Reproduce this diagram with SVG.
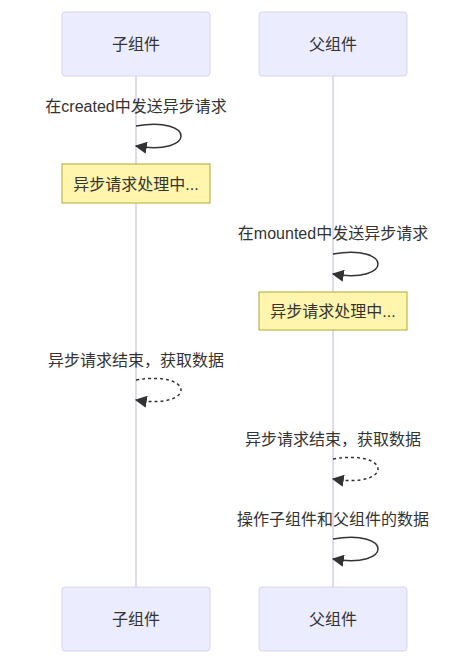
<svg xmlns="http://www.w3.org/2000/svg" width="474" height="668" viewBox="0 0 474 668">
<style>
.actor{fill:#ECECFF;stroke:#d9d2f2;stroke-width:1}
.life{stroke:#d6cff0;stroke-width:1.5;fill:none}
.t{font-family:"Trebuchet MS","Liberation Sans","Noto Sans CJK SC",sans-serif;font-size:16px;fill:#333;text-anchor:middle;dominant-baseline:central}
.note{fill:#fff5ad;stroke:#aaaa33;stroke-width:1}
.msg{fill:none;stroke:#333;stroke-width:1.5}
.dash{stroke-dasharray:3,3}
</style>
<defs>
<marker id="arrowhead" refX="9" refY="5" markerUnits="userSpaceOnUse" markerWidth="12" markerHeight="12" orient="auto" viewBox="0 0 10 10"><path d="M 0 0 L 10 5 L 0 10 z" fill="#333"/></marker>
</defs>
<g id="lifelines">
<line class="life" x1="136" y1="76" x2="136" y2="587"/>
<line class="life" x1="333" y1="76" x2="333" y2="587"/>
</g>
<g id="child-top"><rect class="actor" x="62" y="12" width="148" height="64" rx="3"/><text class="t" x="136" y="44">子组件</text></g>
<g id="parent-top"><rect class="actor" x="259" y="12" width="148" height="64" rx="3"/><text class="t" x="333" y="44">父组件</text></g>
<g id="child-bottom"><rect class="actor" x="62" y="587" width="148" height="64" rx="3"/><text class="t" x="136" y="619">子组件</text></g>
<g id="parent-bottom"><rect class="actor" x="259" y="587" width="148" height="64" rx="3"/><text class="t" x="333" y="619">父组件</text></g>
<g id="note1"><rect class="note" x="62" y="164" width="148" height="39"/><text class="t" x="136" y="184">异步请求处理中...</text></g>
<g id="note2"><rect class="note" x="259" y="292" width="148" height="38"/><text class="t" x="333" y="311">异步请求处理中...</text></g>
<g id="connectors">
<text class="t" x="136" y="106">在created中发送异步请求</text>
<path class="msg" d="M136,126 C196,116 196,156 136,146" marker-end="url(#arrowhead)"/>
<text class="t" x="333" y="233">在mounted中发送异步请求</text>
<path class="msg" d="M333,254 C393,244 393,284 333,274" marker-end="url(#arrowhead)"/>
<text class="t" x="136" y="360">异步请求结束，获取数据</text>
<path class="msg dash" d="M136,380 C196,370 196,410 136,400" marker-end="url(#arrowhead)"/>
<text class="t" x="333" y="439">异步请求结束，获取数据</text>
<path class="msg dash" d="M333,459 C393,449 393,489 333,479" marker-end="url(#arrowhead)"/>
<text class="t" x="333" y="519">操作子组件和父组件的数据</text>
<path class="msg" d="M333,539 C393,529 393,569 333,559" marker-end="url(#arrowhead)"/>
</g>
</svg>
